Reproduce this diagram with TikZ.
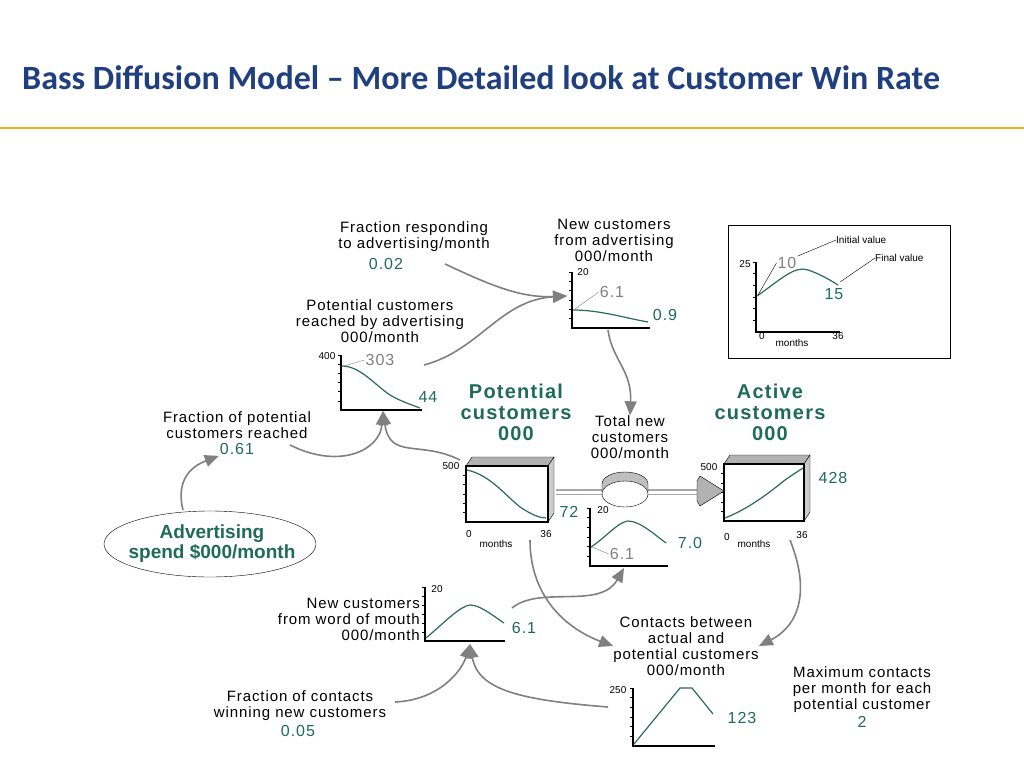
\documentclass[tikz,border=0pt]{standalone}
\usepackage{fontspec}
\setmainfont{Liberation Sans}
\newfontfamily\titlefont{Carlito}
\newfontfamily\widefont[LetterSpace=6]{Liberation Sans}
\usetikzlibrary{arrows.meta,shapes.geometric}
\definecolor{navy}{HTML}{1F3F7F}
\definecolor{gold}{HTML}{F0B41E}
\definecolor{val}{HTML}{1F6B5A}
\definecolor{curve}{HTML}{2A6A5A}
\tikzset{
  lbl/.style={align=center, font=\widefont\fontsize{15}{16}\selectfont, inner sep=0pt},
  num/.style={font=\widefont\fontsize{16}{16}\selectfont, text=val, inner sep=1pt},
  old/.style={font=\widefont\fontsize{16}{16}\selectfont, text=gray, inner sep=1pt},
  tiny/.style={font=\fontsize{10}{10}\selectfont, inner sep=0pt},
  stocklbl/.style={align=center, font=\widefont\bfseries\fontsize{20}{21}\selectfont, text=val, inner sep=0pt},
  link/.style={draw=gray, line width=1.6pt, -{Triangle[length=14pt,width=12pt]}},
  trace/.style={draw=curve, line width=1.2pt},
}
% axes of a small chart: x of axis, top, bottom, right end
\newcommand\minichart[4]{
  \draw[line width=1.2pt] (#1,#2) -- (#1,#3) -- (#4,#3);
  \foreach \t in {0,...,5} \draw (#1-3,{#2+\t*(#3-#2)/6}) -- (#1,{#2+\t*(#3-#2)/6});
}
% box for a stock
\newcommand\stockbox[4]{
  \draw[fill=gray!60] (#1,#2) -- (#1+6,#2-9) -- (#3+6,#2-9) -- (#3,#2) -- cycle;
  \draw[fill=gray!40] (#3,#2) -- (#3+6,#2-9) -- (#3+6,#4-9) -- (#3,#4) -- cycle;
  \draw[line width=1.2pt, fill=white] (#1,#2) rectangle (#3,#4);
  \foreach \t in {1,...,5} \draw (#1-3,{#2+\t*(#4-#2)/6}) -- (#1,{#2+\t*(#4-#2)/6});
}
\begin{document}
\begin{tikzpicture}[x=1pt,y=-1pt]
\useasboundingbox (0,0) rectangle (1024,773);

% title
\node[anchor=west, inner sep=0pt, text=navy, font=\titlefont\bfseries\fontsize{34}{36}\selectfont] (title) at (22,78) {Bass Diffusion Model \textendash\ More Detailed look at Customer Win Rate};
\draw[gold, line width=2.5pt] (0,128) -- (1024,128);

% legend
\draw (728,225) rectangle (950,358);
\minichart{756}{262}{332}{840}
\draw[trace] (757,296) .. controls (780,280) and (795,265) .. (808,270) .. controls (820,274) and (830,280) .. (838,285);
\node[tiny] (lg25) at (745,264) {25};
\node[old] (lg10) at (787,263) {10};
\node[num] (lg15) at (834,294) {15};
\node[tiny, anchor=west] (lginit) at (836,240) {Initial value};
\node[tiny, anchor=west] (lgfin) at (875,258) {Final value};
\draw (lginit.west) -- (lg10.north east);
\draw (lgfin.west) -- (840,282);
\draw (lg10.west) -- (758,295);
\node[tiny] (lg0) at (762,336) {0};
\node[tiny] (lgm) at (792,343) {months};
\node[tiny] (lg36) at (838,336) {36};

% new customers from advertising
\node[lbl] (nca) at (614,240) {New customers\\from advertising\\000/month};
\minichart{572}{272}{328}{650}
\draw[trace] (573,310) .. controls (600,310) and (625,318) .. (648,322);
\node[tiny] (nca20) at (583,272) {20};
\node[old] (nca61) at (612,292) {6.1};
\draw[gray] (575,309) -- (nca61.west);
\node[num] (nca09) at (665,315) {0.9};
\coordinate (ncain) at (567,296);

% fraction responding
\node[lbl] (frac) at (414,237) {Fraction responding\\to advertising/month};
\node[num] (frac02) at (386,264) {0.02};

% potential customers reached
\node[lbl] (pcr) at (380,321) {Potential customers\\reached by advertising\\000/month};
\minichart{341}{355}{410}{422}
\draw[trace] (342,366) .. controls (360,366) and (375,385) .. (390,395) .. controls (400,401) and (412,405) .. (420,408);
\node[tiny] (pcr400) at (327,356) {400};
\node[old] (pcr303) at (380,360) {303};
\draw[gray] (344,366) -- (pcr303.west);
\node[num] (pcr44) at (428,397) {44};
\coordinate (pcrin) at (383,411);

% fraction of potential customers reached
\node[lbl] (fpr) at (237,425) {Fraction of potential\\customers reached};
\node[num] (fpr61) at (237,449) {0.61};

% advertising spend
\node[stocklbl, font=\bfseries\fontsize{19}{20}\selectfont] (adv) at (212,544) {Advertising\\spend \$000/month};
\draw (210,544) ellipse[x radius=106, y radius=33];

% potential customers stock
\node[stocklbl] (pot) at (516,412) {Potential\\customers\\000};
\stockbox{466}{466}{548}{522}
\draw[trace] (467,470) .. controls (490,475) and (505,495) .. (520,507) .. controls (532,515) and (540,518) .. (546,518);
\node[tiny] (pot500) at (451,466) {500};
\node[num] (pot72) at (569,512) {72};
\node[tiny] (pot0) at (469,534) {0};
\node[tiny] (potm) at (496,544) {months};
\node[tiny] (pot36) at (546,534) {36};

% active customers stock
\node[stocklbl] (act) at (770,412) {Active\\customers\\000};
\stockbox{724}{464}{804}{521}
\draw[trace] (725,518) .. controls (750,508) and (770,492) .. (785,480) .. controls (795,473) and (800,470) .. (803,468);
\node[tiny] (act500) at (709,467) {500};
\node[num] (act428) at (833,478) {428};
\node[tiny] (act0) at (727,537) {0};
\node[tiny] (actm) at (754,544) {months};
\node[tiny] (act36) at (802,535) {36};

% flow between the stocks
\node[lbl] (tnc) at (630,437) {Total new\\customers\\000/month};
\draw[gray!70, line width=6pt] (556,492) -- (700,492);
\draw[white, line width=3pt] (556,492) -- (700,492);
\draw[fill=gray!50] (602,484) arc[start angle=180, end angle=0, x radius=23pt, y radius=12pt] -- (648,492) -- (602,492) -- cycle;
\node[draw, fill=white, ellipse, minimum width=46pt, minimum height=26pt, inner sep=0pt] (valve) at (625,494) {};
\draw[fill=gray!60] (697,481) -- (700,476) -- (724,491) -- (700,506) -- (697,501) -- cycle;

% total new customers chart
\minichart{590}{508}{566}{668}
\draw[trace] (591,547) .. controls (605,538) and (618,522) .. (628,521) .. controls (640,521) and (655,535) .. (666,543);
\node[tiny] (tnc20) at (603,510) {20};
\node[num] (tnc70) at (690,543) {7.0};
\node[old] (tnc61) at (622,554) {6.1};
\draw[gray] (592,547) -- (tnc61.west);
\coordinate (tncin) at (624,568);

% new customers from word of mouth
\node[lbl, align=right, anchor=east] (wom) at (420,619) {New customers\\from word of mouth\\000/month};
\minichart{425}{587}{641}{505}
\draw[trace] (426,638) .. controls (445,622) and (460,606) .. (470,605) .. controls (480,605) and (492,615) .. (504,623);
\node[tiny] (wom20) at (437,589) {20};
\node[num] (wom61) at (524,628) {6.1};
\coordinate (womin) at (470,644);

% fraction of contacts winning
\node[lbl] (fcw) at (300,706) {Fraction of contacts\\winning new customers};
\node[num] (fcw05) at (298,731) {0.05};

% contacts between actual and potential
\node[lbl] (con) at (686,646) {Contacts between\\actual and\\potential customers\\000/month};
\minichart{633}{688}{746}{715}
\draw[trace] (634,744) -- (680,688) -- (692,688) -- (713,714);
\node[tiny] (con250) at (618,690) {250};
\node[num] (con123) at (742,718) {123};

% maximum contacts
\node[lbl] (max) at (862,690) {Maximum contacts\\per month for each\\potential customer};
\node[num] (max2) at (862,722) {2};

% links
\draw[link] (445,264) .. controls (490,285) and (520,298) .. (ncain);
\draw[link] (424,365) .. controls (480,350) and (500,300) .. (ncain);
\draw[link] (608,330) .. controls (612,360) and (632,370) .. (tnc.north);
\draw[link] (290,445) .. controls (340,470) and (380,450) .. (pcrin);
\draw[link] (460,460) .. controls (420,440) and (390,460) .. (pcrin);
\draw[link] (183,510) .. controls (178,490) and (182,470) .. (fpr61.south west);
\draw[link] (530,540) .. controls (530,600) and (570,630) .. (con.west);
\draw[link] (790,540) .. controls (810,590) and (800,625) .. (con.east);
\draw[link] (512,608) .. controls (540,585) and (600,610) .. (tncin);
\draw[link] (395,702) .. controls (440,700) and (462,670) .. (womin);
\draw[link] (608,707) .. controls (520,700) and (478,690) .. (womin);
\end{tikzpicture}
\end{document}
